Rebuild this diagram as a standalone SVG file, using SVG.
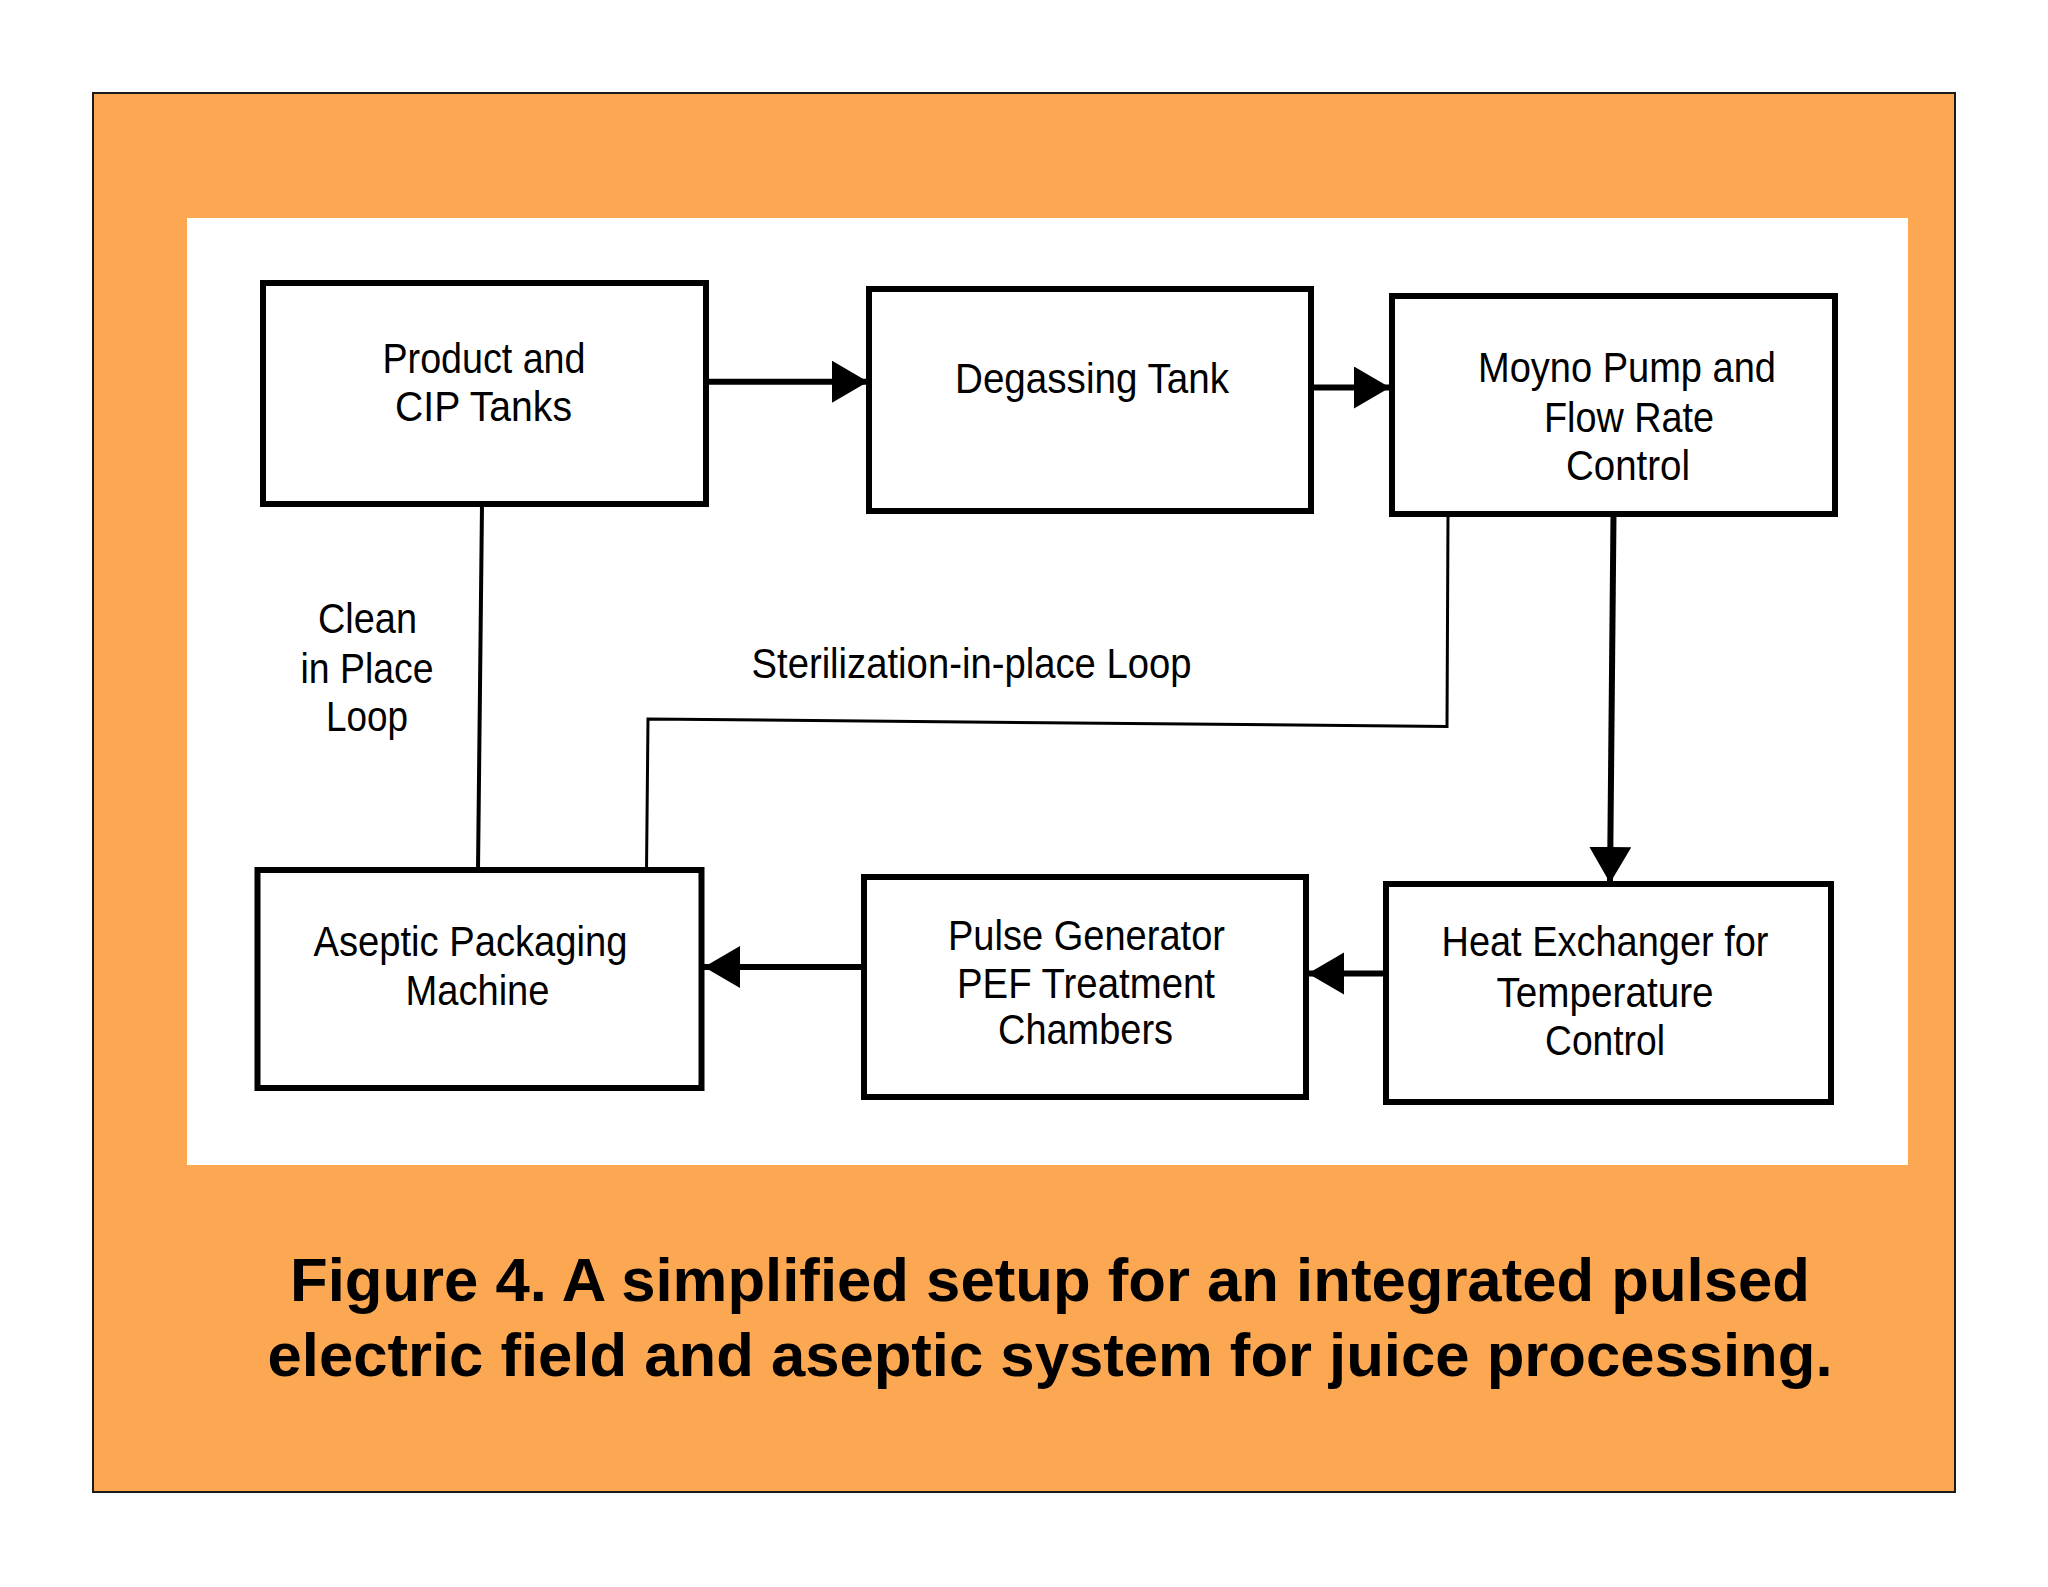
<svg xmlns="http://www.w3.org/2000/svg" width="2048" height="1587" viewBox="0 0 2048 1587">
<style>
.node rect{fill:#ffffff;stroke:#000;stroke-width:6}
.lbl{font-family:"Liberation Sans",Arial,sans-serif;font-size:42px;fill:#000;text-anchor:middle}
.cap{font-family:"Liberation Sans",Arial,sans-serif;font-size:62px;font-weight:bold;fill:#000;text-anchor:middle}
.flow{stroke:#000;stroke-width:6;fill:none}
.loop{stroke:#000;fill:none}
</style>
<defs>
<marker id="ah" markerUnits="userSpaceOnUse" markerWidth="37" markerHeight="44" refX="36" refY="21" orient="auto">
<path d="M0,0 L36,21 L0,42 z" fill="#000"/>
</marker>
</defs>
<rect x="0" y="0" width="2048" height="1587" fill="#ffffff"/>
<rect x="93" y="93" width="1862" height="1399" fill="#FCA853" stroke="#1a1a1a" stroke-width="2"/>
<rect x="187" y="218" width="1721" height="947" fill="#ffffff"/>

<g id="connectors">
<path class="flow" d="M706,381.7 L868,381.7" marker-end="url(#ah)"/>
<path class="flow" d="M1311,387.5 L1390,387.5" marker-end="url(#ah)"/>
<path class="flow" d="M1613.5,515 L1610,883" marker-end="url(#ah)"/>
<path class="flow" d="M1386,973.5 L1308,973.5" marker-end="url(#ah)"/>
<path class="flow" d="M863,967 L704,967" marker-end="url(#ah)"/>
<path class="loop" stroke-width="4" d="M482,505 L478,870"/>
<path class="loop" stroke-width="3" d="M1448,515 L1447,726.5 L648,719 L646.5,871"/>
</g>

<g id="n-product" class="node">
<rect x="263" y="283" width="443" height="221"/>
<text class="lbl" x="484" y="373" textLength="203" lengthAdjust="spacingAndGlyphs">Product and</text>
<text class="lbl" x="483.5" y="421" textLength="177" lengthAdjust="spacingAndGlyphs">CIP Tanks</text>
</g>
<g id="n-degassing" class="node">
<rect x="869" y="289" width="442" height="222"/>
<text class="lbl" x="1092" y="393" textLength="274" lengthAdjust="spacingAndGlyphs">Degassing Tank</text>
</g>
<g id="n-moyno" class="node">
<rect x="1392" y="296" width="443" height="218"/>
<text class="lbl" x="1627" y="382" textLength="298" lengthAdjust="spacingAndGlyphs">Moyno Pump and</text>
<text class="lbl" x="1629" y="432" textLength="170" lengthAdjust="spacingAndGlyphs">Flow Rate</text>
<text class="lbl" x="1628" y="480" textLength="124" lengthAdjust="spacingAndGlyphs">Control</text>
</g>
<g id="n-aseptic" class="node">
<rect x="257.5" y="870" width="444" height="218"/>
<text class="lbl" x="470.5" y="956" textLength="314" lengthAdjust="spacingAndGlyphs">Aseptic Packaging</text>
<text class="lbl" x="477.5" y="1004.5" textLength="144" lengthAdjust="spacingAndGlyphs">Machine</text>
</g>
<g id="n-pulse" class="node">
<rect x="864" y="877" width="442" height="220"/>
<text class="lbl" x="1086.5" y="949.5" textLength="277" lengthAdjust="spacingAndGlyphs">Pulse Generator</text>
<text class="lbl" x="1086" y="997.5" textLength="258" lengthAdjust="spacingAndGlyphs">PEF Treatment</text>
<text class="lbl" x="1085.5" y="1043.5" textLength="175" lengthAdjust="spacingAndGlyphs">Chambers</text>
</g>
<g id="n-heat" class="node">
<rect x="1386" y="884" width="445" height="218"/>
<text class="lbl" x="1605" y="956" textLength="327" lengthAdjust="spacingAndGlyphs">Heat Exchanger for</text>
<text class="lbl" x="1605" y="1006.5" textLength="217" lengthAdjust="spacingAndGlyphs">Temperature</text>
<text class="lbl" x="1605" y="1054.5" textLength="120" lengthAdjust="spacingAndGlyphs">Control</text>
</g>

<g id="loop-labels">
<text class="lbl" x="367.5" y="633" textLength="99" lengthAdjust="spacingAndGlyphs">Clean</text>
<text class="lbl" x="367" y="683" textLength="133" lengthAdjust="spacingAndGlyphs">in Place</text>
<text class="lbl" x="367" y="730.5" textLength="82" lengthAdjust="spacingAndGlyphs">Loop</text>
<text class="lbl" x="971.5" y="678" textLength="440" lengthAdjust="spacingAndGlyphs">Sterilization-in-place Loop</text>
</g>

<g id="caption">
<text class="cap" x="1050" y="1300.5" textLength="1520" lengthAdjust="spacingAndGlyphs">Figure 4. A simplified setup for an integrated pulsed</text>
<text class="cap" x="1050" y="1376" textLength="1565" lengthAdjust="spacingAndGlyphs">electric field and aseptic system for juice processing.</text>
</g>
</svg>
